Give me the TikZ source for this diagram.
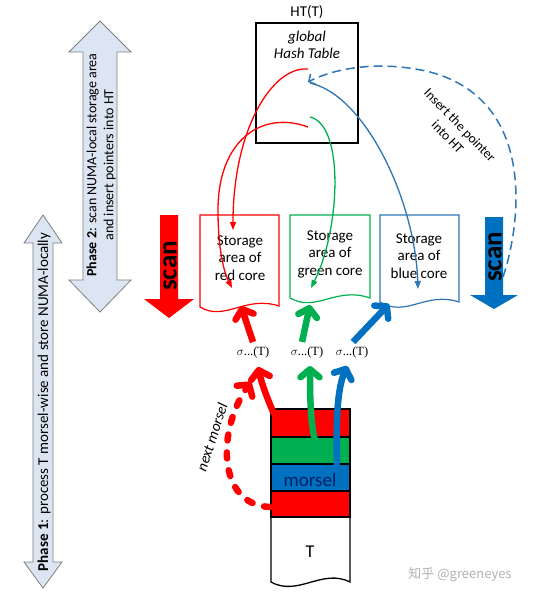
\documentclass[tikz,border=0pt]{standalone}
\usepackage{fontspec}
\setmainfont{Carlito}
\newfontfamily\serifT{Liberation Serif}
\newfontfamily\cjkfont{Noto Sans CJK SC}
\usetikzlibrary{arrows.meta}
\definecolor{phfill}{HTML}{DCE6F2}
\definecolor{phline}{HTML}{7F7F7F}
\definecolor{cred}{HTML}{FF0000}
\definecolor{cgreen}{HTML}{00B050}
\definecolor{cblue}{HTML}{0070C0}
\definecolor{tblue}{HTML}{2E75B6}
\definecolor{navy}{HTML}{002060}
\begin{document}
\begin{tikzpicture}[x=1pt,y=-1pt,
  phasearrow/.style={draw=phline, fill=phfill, line width=0.8pt, line join=miter},
  thinarrow/.style={line width=1.3pt, -{Triangle[length=8pt,width=6pt]}},
  thickarrow/.style={line width=6.5pt, -{Straight Barb[round,length=8pt,width=19pt]}},
  docbox/.style={line width=1.2pt, fill=white},
  boxtext/.style={font=\fontsize{15}{17.5}\selectfont, align=center},
  sigmatext/.style={font=\serifT\fontsize{12.5}{13}\selectfont},
  scantext/.style={font=\bfseries\fontsize{27}{27}\selectfont, rotate=90}
]
\useasboundingbox (0,0) rectangle (534,599);
\fill[white] (0,0) rectangle (534,599);

% Phase arrows
\draw[phasearrow] (100,21) -- (131,52) -- (117,52) -- (117,280) -- (131,280) -- (100,312)
  -- (69,280) -- (83,280) -- (83,52) -- (69,52) -- cycle;
\node[rotate=90, align=center, font=\fontsize{14}{17}\selectfont] (ph2) at (101,165)
  {\textbf{Phase 2}: scan NUMA-local storage area\\and insert pointers into HT};
\draw[phasearrow] (43,215) -- (62,243) -- (53,243) -- (53,562) -- (62,562) -- (43,588)
  -- (24,562) -- (33,562) -- (33,243) -- (24,243) -- cycle;
\node[rotate=90, font=\fontsize{15}{17}\selectfont] (ph1) at (44,402)
  {\textbf{Phase 1}: process T morsel-wise and store NUMA-locally};

% Scan arrows
\fill[cred] (160,215) -- (178,215) -- (178,299) -- (194,299) -- (169,318) -- (144,299) -- (160,299) -- cycle;
\node[scantext] (scanr) at (170,266) {scan};
\fill[cblue] (485,217) -- (503,217) -- (503,295) -- (518,295) -- (494,309) -- (470,295) -- (485,295) -- cycle;
\node[scantext] (scanb) at (495,257) {scan};

% Hash table
\node[draw, line width=1.3pt, minimum width=102pt, minimum height=120pt, inner sep=0pt] (ht) at (307,83) {};
\node[font=\fontsize{15}{15}\selectfont] (htl) at (307,12) {HT(T)};
\node[font=\itshape\fontsize{15}{17.5}\selectfont, align=center] (htt) at (307,45) {global\\Hash Table};

% Storage areas
\draw[docbox, draw=cred] (200,307) -- (200,215) -- (279,215) -- (279,306)
  .. controls (245,295) and (225,322) .. (200,307);
\draw[docbox, draw=cgreen] (290,298) -- (290,215) -- (370,215) -- (370,298)
  .. controls (336,286) and (316,313) .. (290,298);
\draw[docbox, draw=tblue] (380,302) -- (380,215) -- (459,215) -- (459,302)
  .. controls (426,291) and (406,318) .. (380,302);
\node[boxtext] (sr) at (240,258) {Storage\\area of\\red core};
\node[boxtext] (sg) at (330,254) {Storage\\area of\\green core};
\node[boxtext] (sb) at (419,256) {Storage\\area of\\blue core};

% Table T
\draw[line width=1.3pt, fill=white] (271,517) -- (350,517) -- (350,582)
  .. controls (322,568) and (298,597) .. (271,582) -- cycle;
\draw[line width=1.3pt, fill=cred] (271,409) rectangle (350,437);
\draw[line width=1.3pt, fill=cgreen] (271,437) rectangle (350,464);
\draw[line width=1.3pt, fill=cblue] (271,464) rectangle (350,491);
\draw[line width=1.3pt, fill=cred] (271,491) rectangle (350,517);
\node[text=navy, font=\fontsize{19}{19}\selectfont] (morsel) at (310,480) {morsel};
\node[font=\fontsize{18}{18}\selectfont] (tl) at (310,552) {T};

% sigma labels
\node[sigmatext] (sigr) at (253,352) {$\sigma$...(T)};
\node[sigmatext] (sigg) at (307,352) {$\sigma$...(T)};
\node[sigmatext] (sigb) at (352,352) {$\sigma$...(T)};

% endpoints
\coordinate (ra0) at (308,69);
\coordinate (ra1) at (233,230);
\coordinate (rb0) at (308,127);
\coordinate (rb1) at (232,288);
\coordinate (g0) at (310,117);
\coordinate (g1) at (311,288);
\coordinate (b0) at (310,83);
\coordinate (b1) at (418,289);
\coordinate (d0) at (503,277);
\coordinate (d1) at (308,82);
\coordinate (tr) at (274,414);
\coordinate (tg) at (315,441);
\coordinate (tb) at (337,468);
\coordinate (tr2) at (270,507);
\coordinate (ur0) at (253,342);
\coordinate (ur1) at (241,306);
\coordinate (ug0) at (302,342);
\coordinate (ug1) at (310,305);
\coordinate (ub0) at (353,342);
\coordinate (ub1) at (389,304);
\coordinate (lr1) at (258,367);
\coordinate (lg1) at (310,366);
\coordinate (lb1) at (347,366);
\coordinate (ldr1) at (251,382);

% thin connectors
\draw[thinarrow, draw=cred] (ra0) .. controls (272,66) and (233,130) .. (ra1);
\draw[thinarrow, draw=cred] (rb0) .. controls (262,110) and (218,140) .. (218,210)
  .. controls (218,250) and (224,272) .. (rb1);
\draw[thinarrow, draw=cgreen] (g0) .. controls (345,125) and (340,230) .. (g1);
\draw[thinarrow, draw=tblue] (b0) .. controls (365,95) and (415,200) .. (b1);
\draw[draw=tblue, line width=1.5pt, dash pattern=on 9pt off 5pt, -{Straight Barb[length=5pt,width=12pt]}]
  (d0) .. controls (522,220) and (535,100) .. (430,72) .. controls (380,60) and (335,68) .. (d1);
\node[rotate=-46, align=center, font=\fontsize{13.5}{17}\selectfont] (ins) at (454,131) {Insert the pointer\\into HT};

% thick connectors
\draw[thickarrow, draw=cred] (tr) .. controls (268,400) and (262,385) .. (lr1);
\draw[thickarrow, draw=cgreen] (tg) .. controls (310,420) and (310,390) .. (lg1);
\draw[thickarrow, draw=cblue] (tb) .. controls (336,420) and (337,390) .. (lb1);
\draw[thickarrow, draw=cred, line cap=round, dash pattern=on 6pt off 12pt] (tr2) .. controls (217,505) and (217,430) .. (ldr1);
\node[rotate=72, font=\itshape\fontsize{15}{15}\selectfont] (nm) at (212,437) {next morsel};
\draw[thickarrow, draw=cred] (ur0) -- (ur1);
\draw[thickarrow, draw=cgreen] (ug0) -- (ug1);
\draw[thickarrow, draw=cblue] (ub0) -- (ub1);

% watermark
\node[text=black!30, font=\cjkfont\fontsize{13}{13}\selectfont] (wm) at (460,575) {知乎 @greeneyes};
\end{tikzpicture}
\end{document}
